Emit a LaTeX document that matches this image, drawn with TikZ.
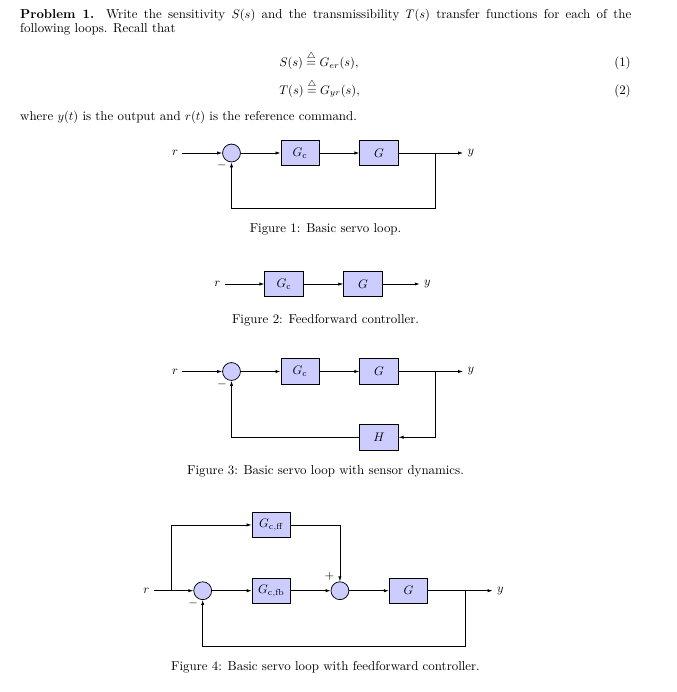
\documentclass[tikz,border=0pt]{standalone}
\usepackage{amsmath,amssymb}
\usetikzlibrary{arrows.meta,positioning,calc}
\tikzset{block/.style={draw,fill=blue!20,line width=0.6pt,minimum width=31pt,minimum height=20.4pt,inner sep=2pt}, sumnode/.style={circle,draw,fill=blue!20,line width=0.6pt,minimum size=14.4pt,inner sep=0pt}, arrow/.style={-{Latex[length=4pt,width=2.6pt]},line width=0.6pt}, textline/.style={anchor=base west,inner sep=0pt}, caption/.style={inner sep=0pt}}

\begin{document}
\begin{tikzpicture}[x=0.806pt,y=-0.806pt,node distance=32pt,font=\fontsize{10.4}{12}\selectfont]
\fill[white] (0,0) rectangle (677,692);
\useasboundingbox (0,0) rectangle (677,692);
\node[textline,text width=492.5pt,align=justify] (intro) at (20,18) {\textbf{Problem 1.} Write the sensitivity $S(s)$ and the transmissibility $T(s)$ transfer functions for each of the\linebreak following loops. Recall that};
\node[textline] (eq1) at (279,66.5) {$S(s) \stackrel{\triangle}{=} G_{er}(s),$};
\node[textline] (eq2) at (279,94) {$T(s) \stackrel{\triangle}{=} G_{yr}(s),$};
\node[anchor=base east,inner sep=0pt] (num1) at (631,66.5) {(1)};
\node[anchor=base east,inner sep=0pt] (num2) at (631,94) {(2)};
\node[textline] (where) at (20,120.5) {where $y(t)$ is the output and $r(t)$ is the reference command.};
\node[sumnode] (sum1) at (231.5,153) {};
\node[left=of sum1] (r1) {$r$};
\node[block,right=of sum1] (gc1) {$G_{\mathrm{c}}$};
\node[block,right=of gc1] (g1) {$G$};
\node[right=52pt of g1] (y1) {$y$};
\coordinate[right=30pt of g1] (b1);
\coordinate[below=45pt of b1] (f1);
\foreach \src/\dst in {r1/sum1,sum1/gc1,gc1/g1,g1/y1}{\draw[arrow] (\src)--(\dst);}
\draw[arrow] (b1)--(f1)-|(sum1);
\node at ([shift={(-9.5,12.5)}]sum1) {$-$};
\node[caption] (cap1) at (325.5,229) {Figure 1: Basic servo loop.};
\node[block] (gc2) at (284,284) {$G_{\mathrm{c}}$};
\node[left=of gc2] (r2) {$r$};
\node[block,right=of gc2] (g2) {$G$};
\node[right=30pt of g2] (y2) {$y$};
\foreach \src/\dst in {r2/gc2,gc2/g2,g2/y2}{\draw[arrow] (\src)--(\dst);}
\node[caption] (cap2) at (325.5,320) {Figure 2: Feedforward controller.};
\node[sumnode] (sum3) at (231.5,371.5) {};
\node[left=of sum3] (r3) {$r$};
\node[block,right=of sum3] (gc3) {$G_{\mathrm{c}}$};
\node[block,right=of gc3] (g3) {$G$};
\node[block,below=of g3] (h3) {$H$};
\node[right=52pt of g3] (y3) {$y$};
\coordinate[right=30pt of g3] (b3);
\foreach \src/\dst in {r3/sum3,sum3/gc3,gc3/g3,g3/y3}{\draw[arrow] (\src)--(\dst);}
\draw[arrow] (b3)|-(h3);
\draw[arrow] (h3)-|(sum3);
\node at ([shift={(-9.5,12.5)}]sum3) {$-$};
\node[caption] (cap3) at (325.5,471) {Figure 3: Basic servo loop with sensor dynamics.};
\node[sumnode] (sum4a) at (202.7,590.7) {};
\node[left=of sum4a] (r4) {$r$};
\node[block,right=of sum4a] (gfb) {$G_{\mathrm{c,fb}}$};
\node[sumnode,right=of gfb] (sum4b) {};
\node[block,right=of sum4b] (g4) {$G$};
\node[block,above=of gfb] (gff) {$G_{\mathrm{c,ff}}$};
\node[right=52pt of g4] (y4) {$y$};
\coordinate[right=30pt of g4] (b4);
\coordinate[below=45pt of b4] (f4);
\coordinate (s4) at ($(r4.east)!0.45!(sum4a.west)$);
\foreach \src/\dst in {r4/sum4a,sum4a/gfb,gfb/sum4b,sum4b/g4,g4/y4}{\draw[arrow] (\src)--(\dst);}
\draw[arrow] (s4)|-(gff);
\draw[arrow] (gff)-|(sum4b);
\draw[arrow] (b4)--(f4)-|(sum4a);
\node at ([shift={(-9.5,12.5)}]sum4a) {$-$};
\node at ([shift={(-10.5,-14.5)}]sum4b) {$+$};
\node[caption] (cap4) at (325.5,667.7) {Figure 4: Basic servo loop with feedforward controller.};
\end{tikzpicture}
\end{document}
